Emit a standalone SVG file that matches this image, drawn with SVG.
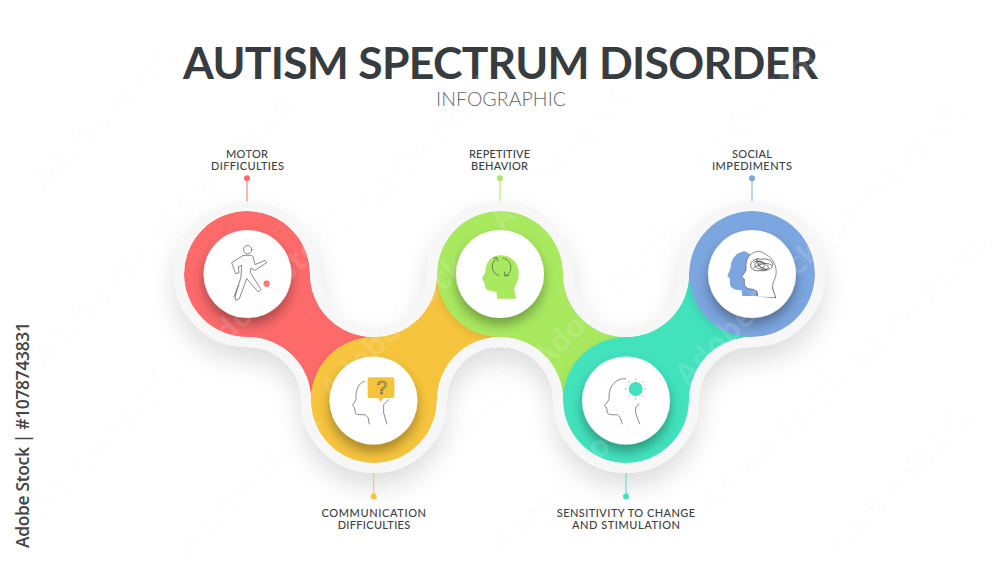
<svg xmlns="http://www.w3.org/2000/svg" width="1000" height="563" viewBox="0 0 1000 563">
<style>
.t{font-family:"Lato","Liberation Sans",sans-serif;font-size:11px;fill:#3c4144;font-weight:500}
.ln{fill:none;stroke:#5f5f5f;stroke-width:2.2;stroke-linejoin:round;stroke-linecap:round}
.wm{font-family:"Open Sans","Liberation Sans",sans-serif;font-size:31px;font-weight:700;fill:#fff;fill-opacity:.12;stroke:#777;stroke-opacity:.035;stroke-width:1}
.disc{fill:#fff;filter:url(#ds)}
</style>
<defs>
<filter id="hs" x="-20%" y="-20%" width="140%" height="150%"><feDropShadow dx="0" dy="14" stdDeviation="12" flood-color="#000" flood-opacity=".13"/></filter>
<filter id="ds" x="-40%" y="-40%" width="180%" height="180%"><feDropShadow dx="0" dy="7" stdDeviation="6" flood-color="#000" flood-opacity=".32"/></filter>
<filter id="cs" x="-30%" y="-30%" width="160%" height="160%"><feDropShadow dx="0" dy="3" stdDeviation="5" flood-color="#000" flood-opacity=".1"/></filter>
<path id="rib" d="M247 211A63 63 0 0 1 310 274A63.5 63 0 0 0 373.5 337A63 63 0 0 0 437 274A63 63 0 0 1 563 274A63 63 0 0 0 626 337A63 63 0 0 0 689 274A63 63 0 0 1 815 274A63 63 0 0 1 752 337A63 63 0 0 0 689 400A63 63 0 0 1 563 400A63 63 0 0 0 437 400A63 63 0 0 1 311 400A63.5 63 0 0 0 247 337A63 63 0 0 1 184 274A63 63 0 0 1 247 211Z"/>
<clipPath id="rc"><use href="#rib"/></clipPath>
</defs>
<rect width="1000" height="563" fill="#fff"/>
<text x="183" y="78.5" textLength="635" lengthAdjust="spacing" style="font-family:Lato,'Liberation Sans',sans-serif;font-size:44.5px;font-weight:700;fill:#373c3f">AUTISM SPECTRUM DISORDER</text>
<text x="436" y="106" textLength="130" lengthAdjust="spacing" style="font-family:Lato,'Liberation Sans',sans-serif;font-size:19.5px;font-weight:300;fill:#63686b">INFOGRAPHIC</text>
<g id="halo"><use href="#rib" fill="#f7f7f7" stroke="#f7f7f7" stroke-width="20" stroke-linejoin="round" filter="url(#hs)"/></g>
<g id="connectors">
<path d="M247 178V201" stroke="#fd6a6a" stroke-width="1" fill="none"/><circle cx="247" cy="178.3" r="3" fill="#fd6a6a"/>
<path d="M500 178V201" stroke="#a9e95f" stroke-width="1" fill="none"/><circle cx="500" cy="178.3" r="3" fill="#a9e95f"/>
<path d="M752 178V201" stroke="#7ba6e0" stroke-width="1" fill="none"/><circle cx="752" cy="178.3" r="3" fill="#7ba6e0"/>
<path d="M373.7 473V496" stroke="#f6c43c" stroke-width="1" fill="none"/><circle cx="373.7" cy="496.6" r="3" fill="#f6c43c"/>
<path d="M626 473V496" stroke="#42e2bd" stroke-width="1" fill="none"/><circle cx="626" cy="496.6" r="3" fill="#42e2bd"/>
</g>
<g clip-path="url(#rc)">
<g id="node-motor"><path fill="#fd6a6a" d="M247 211A63 63 0 0 1 310 274A63.5 63 0 0 0 373.5 337V400H311A63.5 63 0 0 0 247 337A63 63 0 0 1 247 211Z"/></g>
<g id="node-communication-band"><circle cx="373.7" cy="400" r="63" fill="#f6c43c" filter="url(#cs)"/><path fill="#f6c43c" d="M373.5 337A63 63 0 0 0 437 274H500V337A63 63 0 0 0 437 400H373.5Z"/></g>
<g id="node-repetitive-band"><circle cx="500" cy="274" r="63" fill="#a9e95f" filter="url(#cs)"/><path fill="#a9e95f" d="M500 211A63 63 0 0 1 563 274A63 63 0 0 0 626 337V400H563A63 63 0 0 0 500 337Z"/></g>
<g id="node-sensitivity-band"><circle cx="626" cy="400" r="63" fill="#42e2bd" filter="url(#cs)"/><path fill="#42e2bd" d="M626 337A63 63 0 0 0 689 274H752V337A63 63 0 0 0 689 400H626Z"/></g>
<g id="node-social-band"><circle cx="752" cy="274" r="63" fill="#7ba6e0" filter="url(#cs)"/></g>
</g>
<g id="node-motor-icon">
<circle class="disc" cx="247.5" cy="274" r="44"/>
<g transform="translate(205 232) scale(.3333)">
<circle cx="128" cy="53" r="12.5" class="ln"/>
<path class="ln" d="M115 70L140 70Q145 72 147 85L150 98L180 85L185 92L150 115L138 108L136 122L168 172L160 180L125 140L103 200L92 205L90 195L108 135L110 100L100 105L102 122L92 125L80 92L112 72Z"/>
<path class="ln" d="M100 160L87 195"/>
<circle cx="185" cy="155" r="9.5" fill="#fd6a6a"/>
</g>
<text class="t" x="226" y="158.3" textLength="42">MOTOR</text>
<text class="t" x="211" y="170" textLength="73">DIFFICULTIES</text>
</g>
<g id="node-communication">
<circle class="disc" cx="373.5" cy="400.5" r="44"/>
<g transform="translate(332 358) scale(.3333)">
<path class="ln" d="M97 70C80 75 72 95 72 115L72 125L62 142L68 150L70 165Q75 172 100 170L108 178L112 198"/>
<path class="ln" d="M170 125L155 140L155 165L165 198"/>
<path fill="#f6c43c" d="M113 58H181Q187 58 187 64V114Q187 120 181 120H154L146 132L138 120H113Q107 120 107 114V64Q107 58 113 58Z"/>
</g>
<text x="381.7" y="393.5" text-anchor="middle" style="font-family:'Liberation Sans',sans-serif;font-size:19px;font-weight:400;fill:#f6c43c;stroke:#555;stroke-width:.6">?</text>
<text class="t" x="321.5" y="517.3" textLength="104.5">COMMUNICATION</text>
<text class="t" x="337.7" y="529" textLength="72.5">DIFFICULTIES</text>
</g>
<g id="node-repetitive">
<circle class="disc" cx="500" cy="274" r="44"/>
<g transform="translate(458 232) scale(.3333)">
<path fill="#a9e95f" d="M125 70C155 68 182 90 182 122C182 150 170 160 168 172L175 200H118L115 180L90 175Q80 170 80 155L72 138L82 120C82 90 100 72 125 70Z"/>
<path class="ln" style="stroke:#555" d="M122 130C100 125 95 95 115 80M106 78L116 76L120 88"/>
<path class="ln" style="stroke:#555" d="M135 78C165 85 165 120 145 130M140 120L140 132L153 130"/>
</g>
<text class="t" x="469" y="158.3" textLength="61">REPETITIVE</text>
<text class="t" x="471" y="170" textLength="57">BEHAVIOR</text>
</g>
<g id="node-sensitivity">
<circle class="disc" cx="626" cy="400.5" r="44"/>
<g transform="translate(584 358) scale(.3333)">
<path class="ln" d="M125 62C95 60 75 85 75 115L75 125L62 142L68 150L70 165Q75 172 100 170L108 178L115 198"/>
<path class="ln" d="M165 138L155 150L155 165L167 198"/>
<circle cx="155" cy="93" r="21" fill="#42e2bd"/>
<path class="ln" style="stroke:#999;stroke-width:1.8" d="M155 61V66M155 120V125M123 93H128M182 93H187M132 70L136 74M174 112L178 116M132 116L136 112M174 74L178 70"/>
</g>
<text class="t" x="556.7" y="517.3" textLength="138.5">SENSITIVITY TO CHANGE</text>
<text class="t" x="572" y="529" textLength="108">AND STIMULATION</text>
</g>
<g id="node-social">
<circle class="disc" cx="752" cy="274" r="44"/>
<g transform="translate(710 232) scale(.3333)">
<path fill="#7ba6e0" d="M105 58C78 60 62 82 62 108L52 132L60 140L60 158Q65 175 95 175L97 192H145L135 120L125 70Z"/>
<path fill="#fff" stroke="#555" stroke-width="2" stroke-linejoin="round" d="M150 58C125 58 108 75 108 100L108 115L95 135L103 142L103 158Q108 172 130 172L140 178L145 193L197 197L187 170L190 150C205 125 205 80 150 58Z"/>
<path fill="#fff" d="M143 194H196L186 172V178L143 180Z"/>
<path class="ln" style="stroke:#555;stroke-width:2" d="M143 192L140 178M188 168L197 197"/>
<path fill="none" stroke="#333" stroke-width="2" d="M122 100C122 85 140 78 152 82C170 78 188 85 188 98C188 112 165 118 150 116C135 118 122 112 122 100ZM130 92C145 80 170 92 176 108C165 118 140 112 135 100C132 88 155 84 162 96C168 108 150 112 146 100C143 92 152 90 156 96M130 108C145 98 170 88 185 100M142 78C136 92 150 110 170 112"/>
</g>
<text class="t" x="732" y="158.3" textLength="40">SOCIAL</text>
<text class="t" x="712" y="170" textLength="80">IMPEDIMENTS</text>
</g>
<g id="watermark">
<text class="wm" text-anchor="middle" transform="translate(280 292) rotate(-45)">Adobe Stock</text>
<text class="wm" text-anchor="middle" transform="translate(400 335) rotate(-45)">Adobe Stock</text>
<text class="wm" text-anchor="middle" transform="translate(613 303) rotate(-45)">Adobe Stock</text>
<text class="wm" text-anchor="middle" transform="translate(755 320) rotate(-45)">Adobe Stock</text>
<text class="wm" text-anchor="middle" transform="translate(110 125) rotate(-45)">Adobe Stock</text>
<text class="wm" text-anchor="middle" transform="translate(235 170) rotate(-45)">Adobe Stock</text>
<text class="wm" text-anchor="middle" transform="translate(435 150) rotate(-45)">Adobe Stock</text>
<text class="wm" text-anchor="middle" transform="translate(570 165) rotate(-45)">Adobe Stock</text>
<text class="wm" text-anchor="middle" transform="translate(770 110) rotate(-45)">Adobe Stock</text>
<text class="wm" text-anchor="middle" transform="translate(900 180) rotate(-45)">Adobe Stock</text>
<text class="wm" text-anchor="middle" transform="translate(925 310) rotate(-45)">Adobe Stock</text>
<text class="wm" text-anchor="middle" transform="translate(110 450) rotate(-45)">Adobe Stock</text>
<text class="wm" text-anchor="middle" transform="translate(455 450) rotate(-45)">Adobe Stock</text>
<text class="wm" text-anchor="middle" transform="translate(255 490) rotate(-45)">Adobe Stock</text>
<text class="wm" text-anchor="middle" transform="translate(570 490) rotate(-45)">Adobe Stock</text>
<text class="wm" text-anchor="middle" transform="translate(780 450) rotate(-45)">Adobe Stock</text>
<text class="wm" text-anchor="middle" transform="translate(905 490) rotate(-45)">Adobe Stock</text>
<text class="wm" text-anchor="middle" transform="translate(110 300) rotate(-45)">Adobe Stock</text>
<text x="29" y="548" transform="rotate(-90 29 548)" textLength="226" style="font-family:'Open Sans','Liberation Sans',sans-serif;font-size:17.5px;font-weight:600;fill:#444">Adobe Stock | #1078743831</text>
</g>
</svg>
